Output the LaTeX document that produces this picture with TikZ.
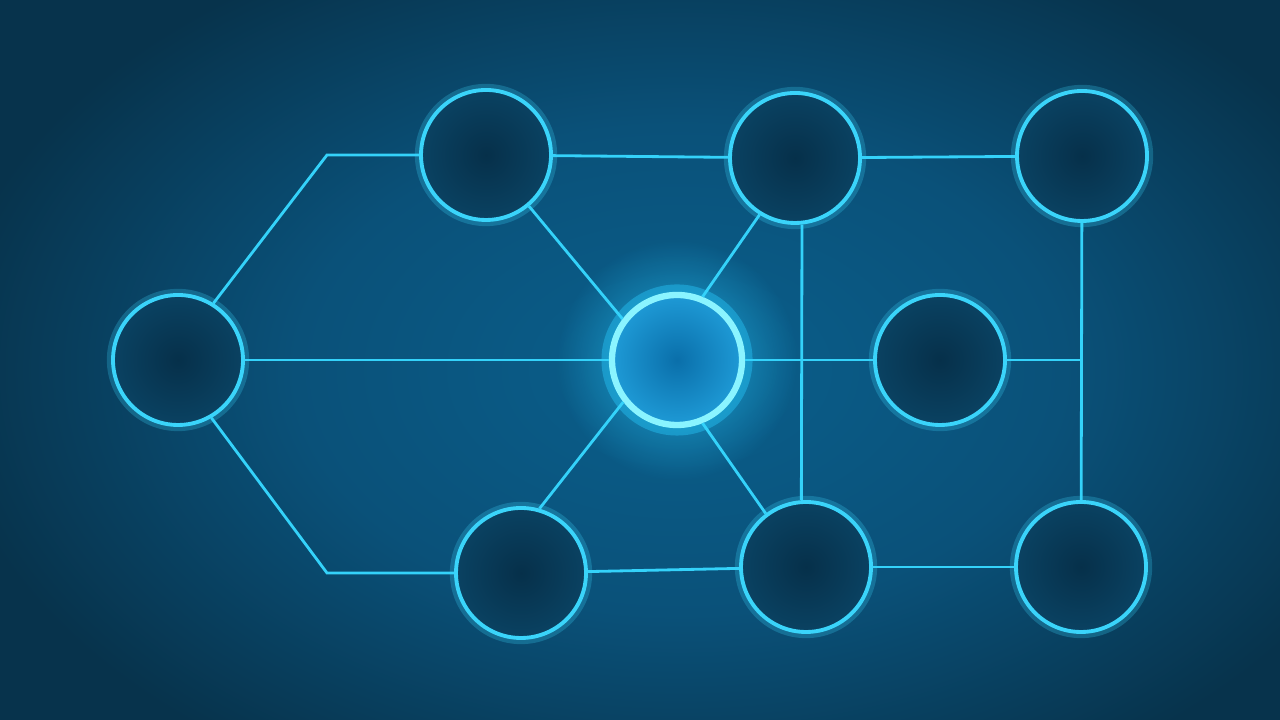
\documentclass[tikz,border=0pt]{standalone}
\usetikzlibrary{fadings}

\definecolor{bgEdge}{HTML}{07334C}
\definecolor{bgMid}{HTML}{0A5F8C}
\definecolor{bgHalf}{HTML}{0A5179}
\definecolor{ringCyan}{HTML}{3AD4FA}
\definecolor{wireCyan}{HTML}{34D2FA}
\definecolor{nodeInner}{HTML}{06304A}
\definecolor{nodeOuter}{HTML}{0A4262}
\definecolor{hubInner}{HTML}{0A6FAA}
\definecolor{hubOuter}{HTML}{1E9AD6}
\definecolor{hubRing}{HTML}{8AF4FF}
\definecolor{haloCyan}{HTML}{25C2F5}

\pgfdeclareradialshading{bgGlow}{\pgfpoint{0bp}{0bp}}{color(0bp)=(bgMid); color(13bp)=(bgHalf); color(25bp)=(bgEdge); color(50bp)=(bgEdge)}
\tikzfading[name=haloFade, inner color=transparent!25, outer color=transparent!100]

\tikzset{
  ring/.style={circle, minimum size=1.3cm, inner sep=0pt, draw=ringCyan, line width=1.1pt,
    inner color=nodeInner, outer color=nodeOuter,
    preaction={draw=ringCyan, line width=3.5pt, opacity=.25}},
  hub/.style={circle, minimum size=1.3cm, inner sep=0pt, draw=hubRing, line width=1.8pt,
    inner color=hubInner, outer color=hubOuter,
    preaction={draw=haloCyan, line width=6pt, opacity=.45}},
  wire/.style={draw=wireCyan, line width=0.8pt},
}

\begin{document}
\begin{tikzpicture}
    \useasboundingbox (0,0) rectangle (12.8,7.2);
    \shade[shading=bgGlow] (-0.6,-1.2) rectangle (14.2,8.2);

    % glow round the middle node
    \fill[haloCyan, path fading=haloFade] (6.77,3.60) circle (1.2cm);

    \node[ring] (L) at (1.78,3.60) {};
    \node[ring] (T1) at (4.86,5.65) {};
    \node[ring] (T2) at (7.95,5.62) {};
    \node[ring] (T3) at (10.82,5.64) {};
    \node[hub] (C) at (6.77,3.60) {};
    \node[ring] (R) at (9.40,3.60) {};
    \node[ring] (B1) at (5.21,1.47) {};
    \node[ring] (B2) at (8.06,1.53) {};
    \node[ring] (B3) at (10.81,1.53) {};

    \coordinate (kneeUp) at (3.27,5.65);
    \coordinate (kneeDown) at (3.27,1.47);
    \coordinate (joinR) at (10.81,3.60);

    % left branches
    \draw[wire] (L.58) -- (kneeUp) -- (T1);
    \draw[wire] (L.300) -- (kneeDown) -- (B1);
    \draw[wire] (L) -- (C);

    % top and bottom rows
    \draw[wire] (T1) -- (T2);
    \draw[wire] (T2) -- (T3);
    \draw[wire] (B1) -- (B2);
    \draw[wire] (B2) -- (B3);

    % spokes of the middle node
    \draw[wire] (T1.310) -- (C.143);
    \draw[wire] (T2.238) -- (C.68);
    \draw[wire] (B1.74) -- (C.218);
    \draw[wire] (B2.127) -- (C.292);

    % right side
    \draw[wire] (T2.276) -- (B2.94);
    \draw[wire] (C) -- (R);
    \draw[wire] (R) -- (joinR);
    \draw[wire] (T3) -- (B3);
\end{tikzpicture}
\end{document}
